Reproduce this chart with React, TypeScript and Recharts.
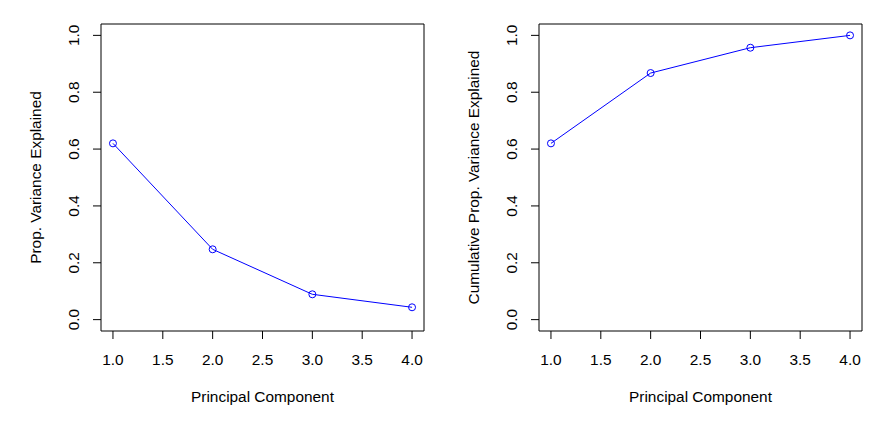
import React from 'react';
import {
  LineChart,
  Line,
  XAxis,
  YAxis,
  ReferenceArea,
  Label
} from 'recharts';

const components = [1, 2, 3, 4];
const pve = [0.6201, 0.2474, 0.0891, 0.0434];
const cumulativePve = [0.6201, 0.8675, 0.9566, 1.0];
const xTicks = [1, 1.5, 2, 2.5, 3, 3.5, 4];
const yTicks = [0, 0.2, 0.4, 0.6, 0.8, 1.0];

// R-style axis ranges (data range padded by 4% each side)
const xDomain: [number, number] = [0.88, 4.12];
const yDomain: [number, number] = [-0.04, 1.04];

const FONT = '"Liberation Sans", Arial, sans-serif';
const FONT_SIZE = 15.4;

const PANEL_W = 438;
const PANEL_H = 423;
const PLOT_LEFT = 101;
const PLOT_TOP = 24;
const PLOT_RIGHT = 424;
const PLOT_BOTTOM = 331;

const XTick = (props: any) => (
  <text
    x={props.x}
    y={PLOT_BOTTOM + 34}
    textAnchor="middle"
    fontFamily={FONT}
    fontSize={FONT_SIZE}
    fill="#000"
  >
    {Number(props.payload.value).toFixed(1)}
  </text>
);

const YTick = (props: any) => {
  const x = PLOT_LEFT - 22;
  return (
    <text
      x={x}
      y={props.y}
      transform={`rotate(-90, ${x}, ${props.y})`}
      textAnchor="middle"
      fontFamily={FONT}
      fontSize={FONT_SIZE}
      fill="#000"
    >
      {Number(props.payload.value).toFixed(1)}
    </text>
  );
};

interface PanelProps {
  values: number[];
  yTitle: string;
}

const Panel: React.FC<PanelProps> = ({ values, yTitle }) => {
  const data = components.map((pc, i) => ({ pc, value: values[i] }));
  const midY = (PLOT_TOP + PLOT_BOTTOM) / 2;
  const titleX = PLOT_LEFT - 60;

  return (
    <LineChart
      width={PANEL_W}
      height={PANEL_H}
      data={data}
      margin={{ top: PLOT_TOP, right: PANEL_W - PLOT_RIGHT, bottom: 0, left: 0 }}
    >
      <XAxis
        type="number"
        dataKey="pc"
        domain={xDomain}
        ticks={xTicks}
        allowDataOverflow
        axisLine={false}
        tickLine={{ stroke: '#000', strokeWidth: 1 }}
        tickSize={8}
        tick={<XTick />}
        height={PANEL_H - PLOT_BOTTOM}
      >
        <Label
          content={() => (
            <text
              x={(PLOT_LEFT + PLOT_RIGHT) / 2}
              y={PLOT_BOTTOM + 71}
              textAnchor="middle"
              fontFamily={FONT}
              fontSize={FONT_SIZE}
              fill="#000"
            >
              Principal Component
            </text>
          )}
        />
      </XAxis>
      <YAxis
        type="number"
        domain={yDomain}
        ticks={yTicks}
        allowDataOverflow
        axisLine={false}
        tickLine={{ stroke: '#000', strokeWidth: 1 }}
        tickSize={8}
        tick={<YTick />}
        width={PLOT_LEFT}
      >
        <Label
          content={() => (
            <text
              x={titleX}
              y={midY}
              transform={`rotate(-90, ${titleX}, ${midY})`}
              textAnchor="middle"
              fontFamily={FONT}
              fontSize={FONT_SIZE}
              fill="#000"
            >
              {yTitle}
            </text>
          )}
        />
      </YAxis>
      <ReferenceArea
        x1={xDomain[0]}
        x2={xDomain[1]}
        y1={yDomain[0]}
        y2={yDomain[1]}
        fill="none"
        stroke="#000"
        strokeWidth={1}
        ifOverflow="visible"
      />
      <Line
        type="linear"
        dataKey="value"
        stroke="#0000FF"
        strokeWidth={1}
        dot={{ r: 3.5, stroke: '#0000FF', strokeWidth: 1, fill: 'none' }}
        activeDot={false}
        isAnimationActive={false}
      />
    </LineChart>
  );
};

export default function App() {
  return (
    <div
      style={{
        position: 'absolute',
        left: 0,
        top: 0,
        width: 877,
        height: 423,
        background: '#fff',
        display: 'flex'
      }}
    >
      <Panel values={pve} yTitle="Prop. Variance Explained" />
      <Panel values={cumulativePve} yTitle="Cumulative Prop. Variance Explained" />
    </div>
  );
}
